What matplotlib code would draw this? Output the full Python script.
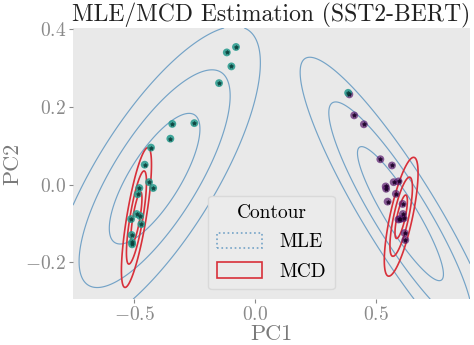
import numpy as np
import matplotlib.pyplot as plt
from matplotlib.patches import Patch

# PCA projection of the sentence embeddings (positive / negative class)
pos_pc1 = [-0.079, -0.117, -0.098, -0.149, -0.342, -0.251, -0.350, -0.430, -0.456, -0.438,
           -0.421, -0.478, -0.485, -0.489, -0.475, -0.512, -0.470, -0.510, -0.508, -0.508,
           0.384]
pos_pc2 = [0.354, 0.340, 0.304, 0.261, 0.156, 0.158, 0.118, 0.095, 0.051, 0.006,
           -0.009, -0.009, -0.025, -0.076, -0.081, -0.089, -0.102, -0.130, -0.149, -0.154,
           0.236]
neg_pc1 = [0.389, 0.409, 0.449, 0.517, 0.565, 0.572, 0.592, 0.539, 0.541, 0.581,
           0.547, 0.609, 0.610, 0.599, 0.613, 0.592, 0.617, 0.620]
neg_pc2 = [0.232, 0.178, 0.155, 0.065, 0.049, 0.006, 0.008, -0.005, -0.011, -0.024,
           -0.044, -0.050, -0.076, -0.089, -0.087, -0.090, -0.125, -0.143]

# Location / covariance estimates per class
mle_mean_pos = [-0.415, 0.015]
mle_cov_pos = [[0.01556, 0.01063], [0.01063, 0.01256]]
mle_mean_neg = [0.600, -0.075]
mle_cov_neg = [[0.0140, -0.0123], [-0.0123, 0.01323]]
mcd_mean_pos = [-0.490, -0.085]
mcd_cov_pos = [[0.000428, 0.00094], [0.00094, 0.0036]]
mcd_mean_neg = [0.603, -0.083]
mcd_cov_neg = [[0.000540, 0.00087], [0.00087, 0.0026]]

# Mahalanobis distances drawn as contours
mle_levels = [1.5, 2.5, 3.5]
mcd_levels = [1.1, 2.0, 3.0]

MLE_COLOR = '#74a3c7'
MCD_COLOR = '#d8303a'
POS_COLOR = '#249a8c'
NEG_COLOR = '#5a1a6e'


def mahalanobis(xx, yy, mean, cov):
    inv = np.linalg.inv(np.array(cov))
    dx = xx - mean[0]
    dy = yy - mean[1]
    d2 = inv[0, 0] * dx * dx + 2 * inv[0, 1] * dx * dy + inv[1, 1] * dy * dy
    return np.sqrt(d2)


plt.rcParams['font.family'] = 'serif'
plt.rcParams['font.serif'] = ['cmr10']
plt.rcParams['mathtext.fontset'] = 'cm'
plt.rcParams['axes.formatter.use_mathtext'] = True

fig = plt.figure(figsize=(4.74, 3.45), dpi=100)
ax = fig.add_axes([0.154, 0.133, 0.838, 0.786])
ax.set_facecolor('#e9e9e9')
for s in ax.spines.values():
    s.set_visible(False)

xlim = (-0.752, 0.888)
ylim = (-0.295, 0.403)
xx, yy = np.meshgrid(np.linspace(*xlim, 500), np.linspace(*ylim, 500))

for mean, cov in [(mle_mean_pos, mle_cov_pos), (mle_mean_neg, mle_cov_neg)]:
    ax.contour(xx, yy, mahalanobis(xx, yy, mean, cov), levels=mle_levels,
               colors=MLE_COLOR, linewidths=0.85, zorder=1)
for mean, cov in [(mcd_mean_pos, mcd_cov_pos), (mcd_mean_neg, mcd_cov_neg)]:
    ax.contour(xx, yy, mahalanobis(xx, yy, mean, cov), levels=mcd_levels,
               colors=MCD_COLOR, linewidths=1.2, zorder=2)

# points: coloured disc with a dark centre
ax.scatter(neg_pc1, neg_pc2, s=32, color=NEG_COLOR, alpha=0.7, edgecolors='none', zorder=3)
ax.scatter(neg_pc1, neg_pc2, s=6, color='#1a0025', marker='*', alpha=0.8, zorder=4)
ax.scatter(pos_pc1, pos_pc2, s=32, color=POS_COLOR, alpha=0.85, edgecolors='none', zorder=3)
ax.scatter(pos_pc1, pos_pc2, s=6, color='#0c3f3a', marker='*', alpha=0.8, zorder=4)

ax.set_xlim(xlim)
ax.set_ylim(ylim)
ax.set_xticks([-0.5, 0.0, 0.5])
ax.set_yticks([-0.2, 0.0, 0.2, 0.4])
ax.tick_params(colors='#8a8a8a', labelsize=14, length=3, width=0.8, pad=2)

ax.set_title('MLE/MCD Estimation (SST2-BERT)', fontsize=17, color='#222222', pad=3)
ax.set_xlabel('PC1', fontsize=16, color='#7a7a7a', labelpad=0)
ax.set_ylabel('PC2', fontsize=16, color='#7a7a7a', labelpad=2)

handles = [Patch(facecolor='none', edgecolor=MLE_COLOR, linestyle=':', linewidth=1.2, label='MLE'),
           Patch(facecolor='none', edgecolor=MCD_COLOR, linewidth=1.2, label='MCD')]
leg = ax.legend(handles=handles, title='Contour', loc='lower center', bbox_to_anchor=(0.5, 0.0),
                fontsize=14, title_fontsize=14, handlelength=2.3, handleheight=0.85,
                frameon=True, facecolor='#ebebeb', edgecolor='#d9d9d9', framealpha=1.0,
                borderpad=0.45, labelspacing=0.55, handletextpad=0.9)
leg.set_zorder(5)

fig.savefig('out.png', dpi=100)
